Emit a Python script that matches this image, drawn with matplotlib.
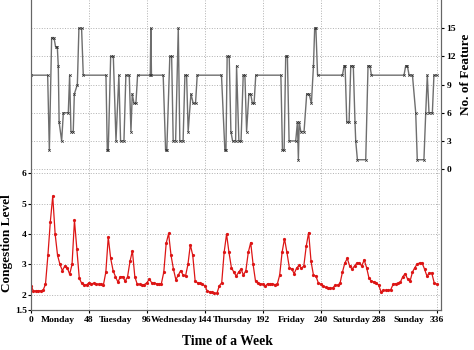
import matplotlib
matplotlib.use("Agg")
import matplotlib.pyplot as plt
import numpy as np

# Congestion level, every 2 hours over one week (hours 0..336)
cong_hours = np.arange(0, 337, 2)
cong_level = [
    2.30, 2.13, 2.13, 2.14, 2.13, 2.15, 2.35, 3.30, 4.40, 5.25,
    4.00, 3.30, 3.00, 2.80, 2.95, 2.90, 2.68, 3.00, 4.45, 3.50,
    2.55, 2.38, 2.33, 2.33, 2.40, 2.37, 2.38, 2.36, 2.35, 2.36,
    2.33, 2.75, 3.90, 3.20, 2.80, 2.60, 2.42, 2.60, 2.60, 2.45,
    2.60, 3.10, 3.45, 2.60, 2.35, 2.35, 2.33, 2.34, 2.40, 2.52,
    2.40, 2.38, 2.37, 2.36, 2.37, 2.75, 3.70, 4.02, 3.30, 2.85,
    2.50, 2.65, 2.80, 2.65, 2.62, 3.00, 3.65, 3.30, 2.45, 2.40,
    2.38, 2.35, 2.30, 2.13, 2.10, 2.08, 2.05, 2.05, 2.30, 2.40,
    3.40, 4.00, 3.40, 2.90, 2.75, 2.62, 2.75, 2.85, 2.65, 2.80,
    3.40, 3.72, 3.00, 2.45, 2.38, 2.37, 2.35, 2.28, 2.37, 2.35,
    2.36, 2.34, 2.35, 2.65, 3.40, 3.85, 3.40, 2.90, 2.85, 2.70,
    2.88, 2.97, 2.88, 2.95, 3.60, 4.05, 3.10, 2.65, 2.62, 2.40,
    2.35, 2.28, 2.25, 2.23, 2.22, 2.23, 2.32, 2.32, 2.38, 2.75,
    3.05, 3.20, 2.95, 2.85, 2.95, 3.05, 3.05, 2.95, 3.15, 2.90,
    2.55, 2.45, 2.43, 2.40, 2.32, 2.10, 2.15, 2.15, 2.15, 2.17,
    2.35, 2.37, 2.38, 2.42, 2.60, 2.70, 2.52, 2.45, 2.75, 2.90,
    3.02, 3.05, 3.05, 2.85, 2.62, 2.72, 2.72, 2.40, 2.35,
]

# Number of features (time in hours, value)
feat_hours = [
    0, 13.8, 15.2, 17.1, 19, 20.4, 21.8, 22.6, 23.3, 25.4,
    26.8, 30.9, 32, 33.1, 35, 35.9, 38.4, 39.7, 41.9, 43.3,
    62.1, 63.2, 64, 66, 68.2, 70.4, 72.8, 74.2, 77, 78.6,
    81.4, 82.8, 83.9, 85.3, 86.9, 88.3, 98.8, 99.3, 99.8, 109.5,
    111.5, 112.5, 115, 116.5, 117.8, 119.8, 122, 123.3, 126, 127.5,
    128.9, 130.2, 132.5, 134.4, 136.3, 137.7, 157.8, 160.6, 161.5, 162.5,
    164.2, 165.6, 167, 169.5, 170.3, 172.2, 174, 175.8, 177.2, 178.6,
    180.5, 182, 183.4, 184.8, 186.2, 207, 208.3, 209.7, 211, 212.4,
    213.8, 219.3, 220.7, 221.5, 222.2, 223.5, 226.2, 228.4, 230.4, 232.3,
    234, 235, 236, 237.4, 258, 259.4, 260.2, 261.6, 263.5, 264.9,
    267, 268.4, 269, 270.4, 277.3, 279.2, 280.8, 282, 309, 310.4,
    311.8, 313.2, 316, 318.7, 320, 325.5, 327, 328.3, 329.7, 332.5,
    333.8, 336,
]
feat_count = [
    10, 10, 2, 14, 14, 13, 13, 11, 5, 3,
    6, 6, 10, 4, 4, 8, 9, 15, 15, 10,
    10, 2, 2, 12, 12, 3, 10, 3, 3, 10,
    10, 4, 8, 7, 7, 10, 10, 15, 10, 10,
    2, 2, 12, 12, 3, 3, 15, 3, 3, 10,
    10, 4, 8, 7, 7, 10, 10, 2, 2, 12,
    12, 4, 3, 3, 11, 3, 3, 10, 10, 4,
    8, 8, 7, 7, 10, 10, 2, 2, 12, 12,
    3, 3, 5, 1, 5, 4, 4, 8, 8, 7,
    11, 15, 15, 10, 10, 11, 11, 5, 5, 11,
    11, 5, 3, 1, 1, 11, 11, 10, 10, 11,
    11, 10, 10, 6, 1, 1, 6, 10, 6, 6,
    10, 10,
]

hour_ticks = [0, 48, 96, 144, 192, 240, 288, 336]
day_names = ['Monday', 'Tuesday', 'Wednesday', 'Thursday', 'Friday', 'Saturday', 'Sunday']
day_pos = [22, 70, 119, 167, 216, 265, 313]

plt.rcParams['font.family'] = ['Liberation Serif', 'DejaVu Serif']
plt.rcParams['font.weight'] = 'bold'

fig = plt.figure(figsize=(4.74, 3.5), dpi=100)
ax = fig.add_axes([0.0654, 0.114, 0.8646, 0.886])
ax2 = ax.twinx()

# Congestion (left axis)
ax.plot(cong_hours, cong_level, color='#dd1515', lw=0.9, marker='.', ms=2.6)
ax.set_xlim(0, 339.5)
ax.set_ylim(1.5, 11.7)
ax.set_yticks([1.5, 2, 3, 4, 5, 6])
ax.set_yticklabels(['1.5', '2', '3', '4', '5', '6'])
ax.set_xticks(hour_ticks)
ax.set_xticks(day_pos, minor=True)
ax.set_xticklabels(day_names, minor=True)
ax.tick_params(axis='x', which='minor', length=0, pad=4, labelsize=6.8)
ax.tick_params(axis='x', which='major', length=2, pad=2, labelsize=6.8)
ax.tick_params(axis='y', length=2, pad=1, labelsize=6.8)
ax.grid(True, which='major', linestyle=':', color='#b0b0b0', lw=0.7)
ax.set_xlabel('Time of a Week', fontsize=9.8, fontweight='bold')
ax.xaxis.set_label_coords(0.48, -0.08)
ax.set_ylabel('Congestion Level', fontsize=9.5, fontweight='bold')
ax.yaxis.set_label_coords(-0.045, 0.215)

# Number of features (right axis)
ax2.plot(feat_hours, feat_count, color='#6e6e6e', lw=1.0, marker='x', ms=1.8,
         mec='#333333', mew=0.5)
ax2.set_ylim(-15, 18)
ax2.set_yticks([0, 3, 6, 9, 12, 15])
ax2.tick_params(axis='y', length=2, pad=2, labelsize=6.8)
ax2.grid(True, axis='y', linestyle=':', color='#b0b0b0', lw=0.7)
ax2.set_ylabel('No. of Feature', fontsize=9.5, fontweight='bold')
ax2.yaxis.set_label_coords(1.047, 0.76)

for a in (ax, ax2):
    a.spines['top'].set_visible(False)
    for s in ('left', 'right', 'bottom'):
        a.spines[s].set_color('#666666')

fig.savefig('out.png', dpi=100)
